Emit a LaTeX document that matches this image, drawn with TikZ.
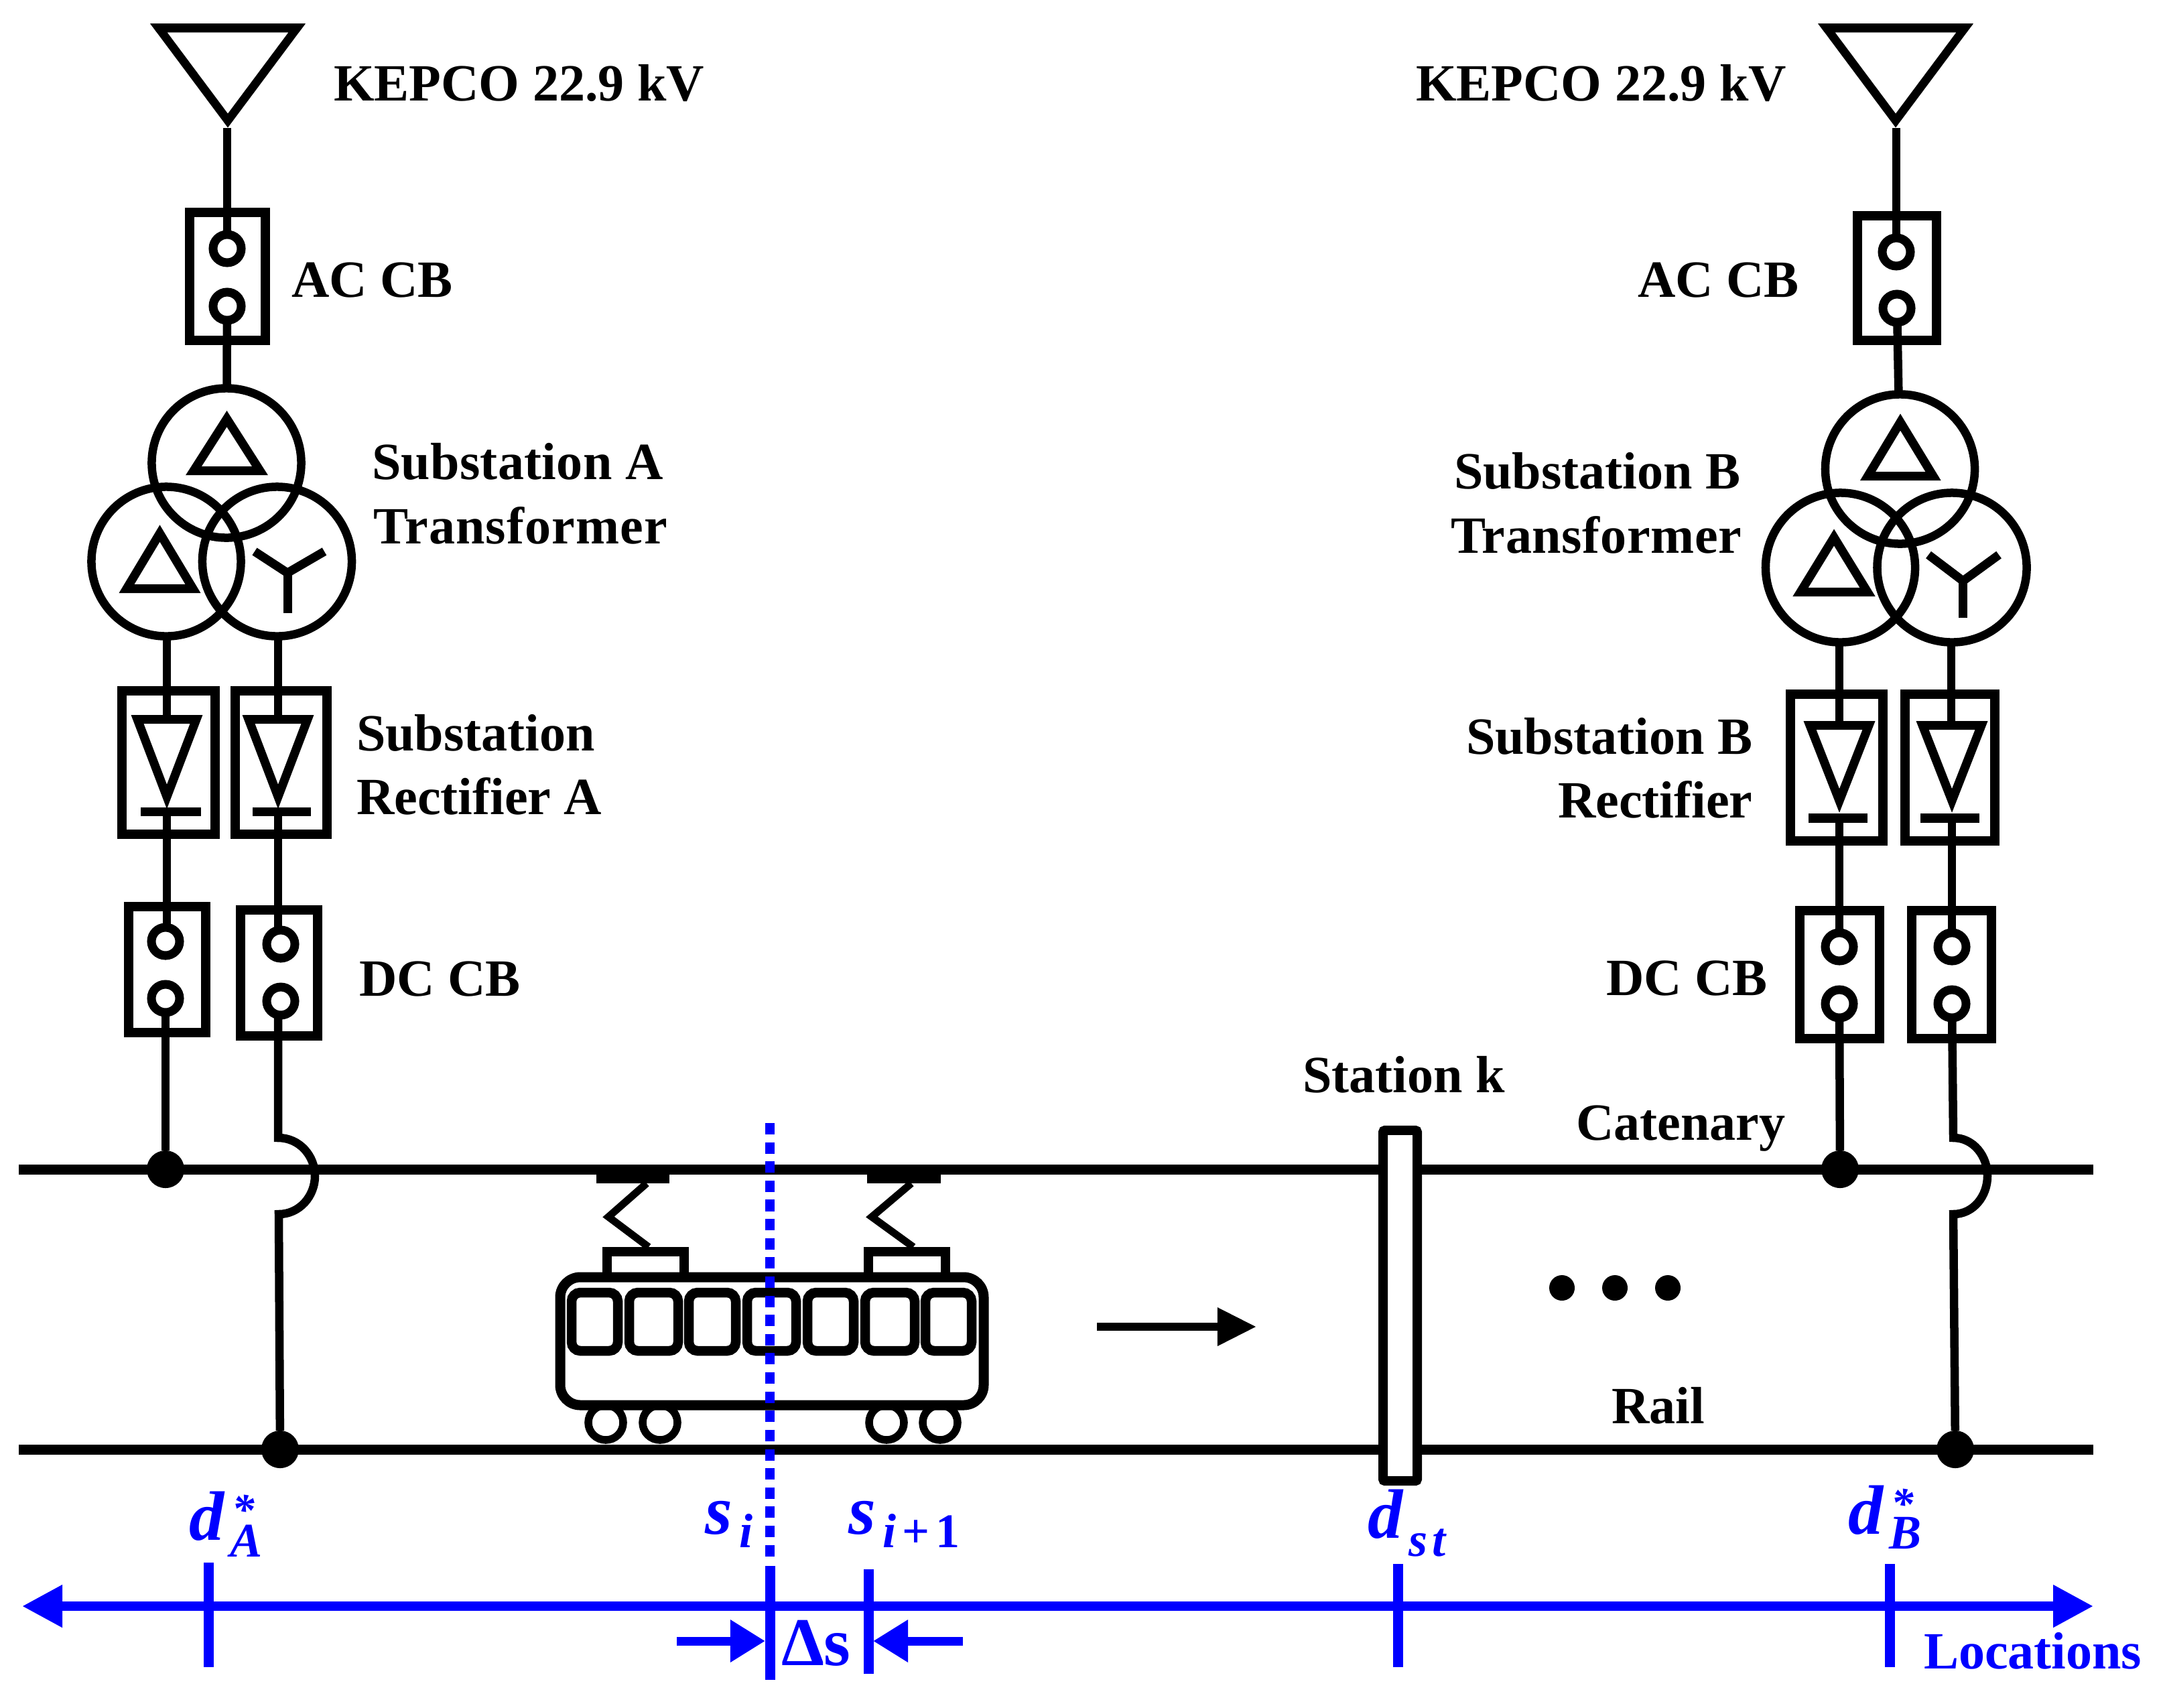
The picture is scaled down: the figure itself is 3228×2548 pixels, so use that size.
\documentclass[tikz,border=0pt]{standalone}
\usepackage{fontspec}
\setmainfont{Liberation Serif}
\usetikzlibrary{arrows.meta}
\definecolor{bl}{RGB}{0,0,255}
\newcommand{\subf}{\fontsize{20.5}{22}\selectfont}
\newcommand{\starf}{\fontsize{19}{21}\selectfont}
\tikzset{
  box/.style 2 args={draw,rectangle,line width=.14cm,inner sep=0pt,outer sep=0pt,minimum width=#1,minimum height=#2},
  term/.style={draw,circle,line width=.13cm,inner sep=0pt,outer sep=0pt,minimum size=.42cm},
  xf/.style={draw,circle,line width=.125cm,inner sep=0pt,outer sep=0pt,minimum size=2.23cm},
  jdot/.style={fill,circle,inner sep=0pt,outer sep=0pt,minimum size=.56cm},
  edot/.style={fill,circle,inner sep=0pt,outer sep=0pt,minimum size=.38cm},
  wire/.style={line width=.125cm},
  bus/.style={line width=.15cm},
  sym/.style={line width=.13cm},
  lbl/.style={inner sep=0pt,outer sep=0pt,anchor=base west,yshift=-.02cm,font=\fontsize{22.2}{24}\selectfont\bfseries},
  mlbl/.style={inner sep=0pt,outer sep=0pt,anchor=base west,text=bl,font=\fontsize{29.7}{32}\selectfont\bfseries\itshape},
  baxis/.style={draw=bl,line width=.14cm},
  btick/.style={draw=bl,line width=.15cm},
  win/.style={draw,line width=.145cm,rounded corners=.13cm},
  bigtip/.style={{Triangle[length=.6cm,width=.6cm]}-{Triangle[length=.6cm,width=.6cm]}},
  rtip/.style={-{Triangle[length=.52cm,width=.6cm]}},
}
\begin{document}
\begin{tikzpicture}[x=0.01cm,y=-0.01cm]
\useasboundingbox (0,0) rectangle (3228,2548);
% ---------- named points
\coordinate (triAapx) at (339,191);
\coordinate (triBapx) at (2830,191);
\coordinate (catL) at (28,1745);
\coordinate (catR) at (3124,1745);
\coordinate (railL) at (28,2163);
\coordinate (railR) at (3124,2163);
% ---------- buses
\draw[bus] (catL) -- (catR);
\draw[bus] (railL) -- (railR);
% ---------- side A nodes
\draw[line width=.125cm] (237,42) -- (443,42) -- (340,180) -- cycle;
\fill (224,35) -- (456,35) -- (446,48) -- (234,48) -- cycle;
\node[box={1.13cm}{1.91cm}] (acA) at (339.5,412.5) {};
\node[term] (acAt) at (339,371) {};
\node[term] (acAb) at (339,457) {};
\node[xf] (xfAt) at (338,691) {};
\node[xf] (xfAl) at (248,838) {};
\node[xf] (xfAr) at (413.5,838) {};
\draw[sym] (289,702.5) -- (388,702.5) -- (338.5,625) -- cycle;
\draw[sym] (189,878.5) -- (288,878.5) -- (238.5,796) -- cycle;
\draw[sym] (380,823) -- (429,855) -- (484,823);
\draw[sym] (429,855) -- (429,915);
\node[box={1.39cm}{2.14cm}] (recA1) at (251.5,1138) {};
\node[box={1.37cm}{2.14cm}] (recA2) at (419.5,1138) {};
\coordinate (dA1t) at (249,1073);
\coordinate (dA2t) at (415,1073);
\draw[sym] (205,1073.5) -- (293,1073.5) -- (249,1189) -- cycle;
\draw[sym] (371,1073.5) -- (459,1073.5) -- (415,1189) -- cycle;
\fill (210,1205) rectangle (300,1218);
\fill (377,1205) rectangle (464,1218);
\coordinate (dA1b) at (249,1212);
\coordinate (dA2b) at (415,1212);
\node[box={1.15cm}{1.88cm}] (dcA1) at (249.5,1447) {};
\node[box={1.15cm}{1.88cm}] (dcA2) at (416.5,1452) {};
\node[term] (dcA1t) at (247,1405) {};
\node[term] (dcA1b) at (247,1490) {};
\node[term] (dcA2t) at (419,1409) {};
\node[term] (dcA2b) at (419,1494) {};
\node[jdot] (jA1) at (247,1745) {};
\node[jdot] (jA2) at (418,2163) {};
\coordinate (hAs) at (415,1698);
\coordinate (hAm) at (470,1755);
\coordinate (hAe) at (416,1812);
\draw[wire] (triAapx) -- (acAt);
\draw[wire] (acAb) -- (xfAt);
\draw[wire] (dA1t |- xfAl.south) -- (dA1t);
\draw[wire] (dA2t |- xfAr.south) -- (dA2t);
\draw[wire] (dA1b) -- (dA1b |- dcA1t.north);
\draw[wire] (dA2b) -- (dA2b |- dcA2t.north);
\draw[wire] (dcA1b) -- (jA1);
\draw[wire] (hAs |- dcA2b.south) -- (hAs) .. controls (447,1698) and (470,1725) .. (hAm) .. controls (470,1785) and (447,1812) .. (hAe) -- (jA2);
% ---------- side B nodes
\draw[line width=.125cm] (2726,42) -- (2932,42) -- (2829,180) -- cycle;
\fill (2713,35) -- (2945,35) -- (2935,48) -- (2723,48) -- cycle;
\node[box={1.18cm}{1.86cm}] (acB) at (2831,415) {};
\node[term] (acBt) at (2830,376) {};
\node[term] (acBb) at (2831,460) {};
\node[xf] (xfBt) at (2835.5,700) {};
\node[xf] (xfBl) at (2746.5,847) {};
\node[xf] (xfBr) at (2913,847) {};
\draw[sym] (2787.5,710.5) -- (2885,710.5) -- (2836,630) -- cycle;
\draw[sym] (2687,883.5) -- (2787,883.5) -- (2737,802) -- cycle;
\draw[sym] (2878,828) -- (2929.5,867) -- (2983,828);
\draw[sym] (2929.5,867) -- (2929.5,922);
\node[box={1.38cm}{2.19cm}] (recB1) at (2741,1145.5) {};
\node[box={1.34cm}{2.19cm}] (recB2) at (2910,1145.5) {};
\coordinate (dB1t) at (2745,1083);
\coordinate (dB2t) at (2912,1083);
\draw[sym] (2701,1082.5) -- (2789,1082.5) -- (2745,1195) -- cycle;
\draw[sym] (2869,1082.5) -- (2957,1082.5) -- (2913,1195) -- cycle;
\fill (2699,1214) rectangle (2787,1228);
\fill (2866,1214) rectangle (2954,1228);
\coordinate (dB1b) at (2745,1221);
\coordinate (dB2b) at (2913,1221);
\node[box={1.19cm}{1.91cm}] (dcB1) at (2745.5,1454.5) {};
\node[box={1.19cm}{1.91cm}] (dcB2) at (2912.5,1454.5) {};
\node[term] (dcB1t) at (2745,1413) {};
\node[term] (dcB1b) at (2745,1498) {};
\node[term] (dcB2t) at (2913,1413) {};
\node[term] (dcB2b) at (2913,1498) {};
\node[jdot] (jB1) at (2746,1745) {};
\node[jdot] (jB2) at (2918,2163) {};
\coordinate (hBs) at (2915,1698);
\coordinate (hBm) at (2966,1755);
\coordinate (hBe) at (2915,1812);
\draw[wire] (triBapx) -- (acBt);
\draw[wire] (acBb) -- (xfBt);
\draw[wire] (dB1t |- xfBl.south) -- (dB1t);
\draw[wire] (dB2t |- xfBr.south) -- (dB2t);
\draw[wire] (dB1b) -- (dB1b |- dcB1t.north);
\draw[wire] (dB2b) -- (dB2b |- dcB2t.north);
\draw[wire] (dcB1b) -- (jB1);
\draw[wire] (dcB2b) -- (hBs) .. controls (2945,1698) and (2966,1725) .. (hBm) .. controls (2966,1785) and (2945,1812) .. (hBe) -- (jB2);
% ---------- station
\node[box={.51cm}{5.23cm},fill=white,rounded corners=.03cm] (station) at (2089.5,1948.5) {};
\node[edot] (e1) at (2331,1922) {};
\node[edot] (e2) at (2410,1922) {};
\node[edot] (e3) at (2489,1922) {};
% ---------- train
\fill (890,1752) rectangle (999,1766);
\fill (1294,1752) rectangle (1404,1766);
\draw[line width=.11cm] (965,1766) -- (908,1816) -- (968,1861);
\draw[line width=.11cm] (1360,1766) -- (1301,1816) -- (1363,1861);
\draw[line width=.14cm] (906,1899) -- (906,1868) -- (1021,1868) -- (1021,1899);
\draw[line width=.14cm] (1296,1899) -- (1296,1868) -- (1411,1868) -- (1411,1899);
\foreach \wx in {904,985,1323,1403}{\draw[line width=.115cm] (\wx,2123) circle[radius=.26cm];}
\draw[line width=.15cm,fill=white,rounded corners=.3cm] (836,1906) rectangle (1468,2097);
\foreach \xa/\xb in {853/922,939/1012,1028/1098,1115/1188,1205/1274,1291/1365,1381/1450}{\draw[win] (\xa,1929) rectangle (\xb,2016);}
\coordinate (dirS) at (1637,1980);
\coordinate (dirE) at (1875,1980);
\draw[line width=.125cm,-{Triangle[length=.58cm,width=.54cm]}] (dirS) -- (dirE);
% ---------- blue scale
\coordinate (axL) at (33,2397);
\coordinate (axR) at (3124,2397);
\draw[baxis,bigtip] (axL) -- (axR);
\draw[btick] (311,2332) -- (311,2488);
\draw[btick] (1149,2337) -- (1149,2507);
\draw[btick] (1296,2342) -- (1296,2498);
\draw[btick] (2086,2334) -- (2086,2488);
\draw[btick] (2820,2334) -- (2820,2488);
\draw[draw=bl,line width=.14cm,dash pattern=on .17cm off .116cm] (1149,1676) -- (1149,2323);
\coordinate (dsL0) at (1010,2449);
\coordinate (dsL1) at (1142,2449);
\coordinate (dsR0) at (1437,2449);
\coordinate (dsR1) at (1303,2449);
\draw[baxis,line width=.13cm,rtip] (dsL0) -- (dsL1);
\draw[baxis,line width=.13cm,rtip] (dsR0) -- (dsR1);
% ---------- labels
\node[lbl] (tKa) at (498,148) {KEPCO 22.9 kV};
\node[lbl] (tKb) at (2113,148) {KEPCO 22.9 kV};
\node[lbl] (tAa) at (435,441) {AC CB};
\node[lbl] (tAb) at (2444,441) {AC CB};
\node[lbl] (tSa) at (555,713) {\addfontfeature{LetterSpace=0.4}Substation A};
\node[lbl] (tTa) at (557,809) {\addfontfeature{LetterSpace=1.4}Transformer};
\node[lbl] (tSb) at (2170,727) {Substation B};
\node[lbl] (tTb) at (2165,823) {\addfontfeature{LetterSpace=0.8}Transformer};
\node[lbl] (tRa1) at (532,1118) {Substation};
\node[lbl] (tRa2) at (532,1213) {Rectifier A};
\node[lbl] (tRb1) at (2188,1123) {Substation B};
\node[lbl] (tRb2) at (2325,1218) {Rectifier};
\node[lbl] (tDa) at (536,1484) {DC CB};
\node[lbl] (tDb) at (2397,1483) {DC CB};
\node[lbl] (tSt) at (1944,1628) {Station k};
\node[lbl] (tCa) at (2352,1699) {Catenary};
\node[lbl] (tRl) at (2405,2122) {Rail};
\node[lbl,text=bl] (tLo) at (2871,2488) {Locations};
\node[lbl,text=bl,font=\fontsize{29}{31}\selectfont\bfseries] (tDs) at (1166,2483) {Δs};
\node[mlbl] (mdA) at (282,2298) {d\kern3.6pt\rlap{\raisebox{6.3pt}{\starf *}}\kern-1pt\raisebox{-7.1pt}{\subf A}};
\node[mlbl] (mdB) at (2758,2289) {d\kern3.6pt\rlap{\raisebox{6.3pt}{\starf *}}\kern-1pt\raisebox{-6.3pt}{\subf B}};
\node[mlbl] (mdS) at (2041,2295) {d\kern2.5pt\raisebox{-7.7pt}{\subf s\kern2.2pt t}};
\node[mlbl] (msI) at (1052,2289) {s\kern3pt\raisebox{-5.7pt}{\subf i}};
\node[mlbl] (msJ) at (1266,2289) {s\kern3pt\raisebox{-5.7pt}{\subf i\kern2.6pt{\upshape +}\kern2.6pt{\upshape 1}}};
\end{tikzpicture}
\end{document}
